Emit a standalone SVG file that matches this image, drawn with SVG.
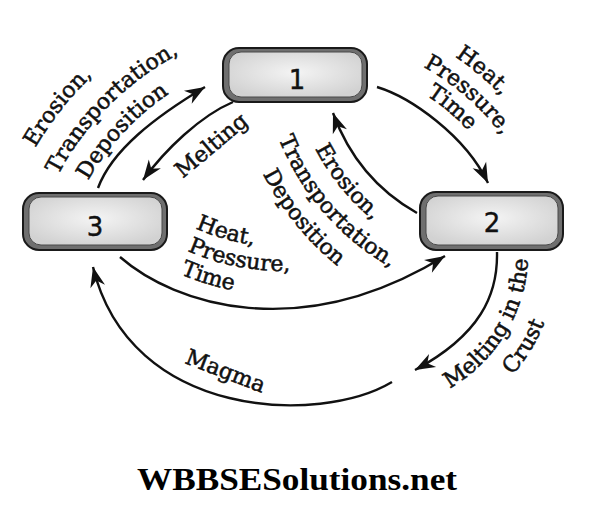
<svg xmlns="http://www.w3.org/2000/svg" width="594" height="517" viewBox="0 0 594 517">
<style>
.lbl{font-family:"DejaVu Serif","Liberation Serif",serif;font-size:22px;fill:#111;stroke:#111;stroke-width:0.55;text-anchor:middle;}
.num{font-family:"DejaVu Sans","Liberation Sans",sans-serif;font-size:26px;fill:#111;stroke:#111;stroke-width:0.4;text-anchor:middle;}
.outer{fill:#6f6f6f;stroke:#1a1a1a;stroke-width:2;}
.inner{fill:url(#g);stroke:#4a4a4a;stroke-width:1;}
.conn path{fill:none;stroke:#111;stroke-width:2.4;marker-end:url(#ah);}
.foot{font-family:"Liberation Serif",serif;font-weight:bold;font-size:32px;fill:#000;}
</style>
<defs>
<radialGradient id="g" cx="50%" cy="45%" r="60%"><stop offset="0" stop-color="#f4f4f4"/><stop offset="1" stop-color="#d2d2d2"/></radialGradient>
<marker id="ah" viewBox="-22 -9 24 18" refX="0" refY="0" markerWidth="24" markerHeight="18" orient="auto" markerUnits="userSpaceOnUse"><path d="M0,0 L-20,-7.5 L-14,0 L-20,7.5 Z" fill="#111"/></marker>
<path id="pL1" d="M-7.9,318 A321,321 0 0 1 248.4,-5.5"/>
<path id="pL2" d="M26.1,283.9 A288,288 0 0 1 287.9,22.1"/>
<path id="pL3" d="M54.4,295.4 A259,259 0 0 1 281.4,51.9"/>
<path id="pR1" d="M289,38 A231,231 0 0 0 475.9,268.7"/>
<path id="pR2" d="M260,46.5 A260,260 0 0 0 479.3,298.8"/>
<path id="pR3" d="M231,37 A289,289 0 0 0 464.9,325.7"/>
<path id="pT1" d="M309,13 A265,265 0 0 1 570,232"/>
<path id="pT2" d="M313.2,38 A240,240 0 0 1 546,240.5"/>
<path id="pT3" d="M309,61 A217,217 0 0 1 522.7,240.3"/>
<path id="pB1" d="M116.7,167.7 A214,214 0 0 0 352.7,235.3"/>
<path id="pB2" d="M111.8,198.3 A238,238 0 0 0 379.8,250.4"/>
<path id="pB3" d="M76.5,194.3 A262,262 0 0 0 364,282.2"/>
<path id="pM1" d="M404.4,405.6 A156,156 0 0 0 524.6,220.6"/>
<path id="pM2" d="M415.4,433.9 A186,186 0 0 0 552.9,209.6"/>
</defs>
<rect width="594" height="517" fill="#fff"/>
<g id="node1"><rect class="outer" x="223" y="48" width="144" height="54" rx="16"/><rect class="inner" x="229" y="52" width="133" height="45" rx="12"/><text class="num" x="297" y="89">1</text></g>
<g id="node2"><rect class="outer" x="420" y="192" width="143" height="58" rx="16"/><rect class="inner" x="426" y="196" width="132" height="49" rx="12"/><text class="num" x="492" y="232">2</text></g>
<g id="node3"><rect class="outer" x="23" y="193" width="144" height="57" rx="16"/><rect class="inner" x="29" y="197" width="133" height="48" rx="12"/><text class="num" x="95" y="236">3</text></g>
<g id="connectors" class="conn">
<path d="M98,188 C112,150 155,117 205,87"/>
<path d="M233,102 C200,116 165,150 143,180"/>
<path d="M377,87 C410,97 465,135 488,183"/>
<path d="M417,213 C385,195 352,165 333,113"/>
<path d="M120,257 C175,305 300,345 445,256"/>
<path d="M497,252 C498,295 480,335 415,370"/>
<path d="M392,382 C320,425 130,420 93,267"/>
</g>
<g id="labels">
<text class="lbl"><textPath href="#pL1" startOffset="50%">Erosion,</textPath></text>
<text class="lbl"><textPath href="#pL2" startOffset="50%">Transportation,</textPath></text>
<text class="lbl"><textPath href="#pL3" startOffset="50%">Deposition</textPath></text>
<text class="lbl" transform="translate(216,151) rotate(-40)">Melting</text>
<text class="lbl"><textPath href="#pR1" startOffset="50%">Erosion,</textPath></text>
<text class="lbl"><textPath href="#pR2" startOffset="50%">Transportation,</textPath></text>
<text class="lbl"><textPath href="#pR3" startOffset="50%">Deposition</textPath></text>
<text class="lbl"><textPath href="#pT1" startOffset="50%">Heat,</textPath></text>
<text class="lbl"><textPath href="#pT2" startOffset="50%">Pressure,</textPath></text>
<text class="lbl"><textPath href="#pT3" startOffset="50%">Time</textPath></text>
<text class="lbl"><textPath href="#pB1" startOffset="50%">Heat,</textPath></text>
<text class="lbl"><textPath href="#pB2" startOffset="50%">Pressure,</textPath></text>
<text class="lbl"><textPath href="#pB3" startOffset="50%">Time</textPath></text>
<text class="lbl"><textPath href="#pM1" startOffset="52%">Melting in the</textPath></text>
<text class="lbl"><textPath href="#pM2" startOffset="50%">Crust</textPath></text>
<text class="lbl" transform="translate(223,378) rotate(21)">Magma</text>
</g>
<text class="foot" x="137" y="490" textLength="320" lengthAdjust="spacingAndGlyphs">WBBSESolutions.net</text>
</svg>
